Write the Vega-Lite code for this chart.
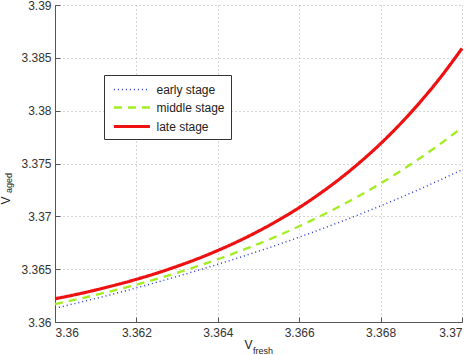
{
  "$schema": "https://vega.github.io/schema/vega-lite/v6.json",
  "width": 407,
  "height": 317,
  "autosize": "none",
  "padding": {"left": 55, "top": 5, "right": 12, "bottom": 33},
  "background": "white",
  "config": {
    "font": "Liberation Sans",
    "view": {"stroke": null},
    "axis": {
      "labelFont": "Liberation Sans",
      "labelFontSize": 12,
      "labelColor": "#333",
      "titleFont": "Liberation Sans",
      "titleFontSize": 12,
      "titleFontWeight": "normal",
      "titleColor": "#222",
      "domainColor": "#555",
      "tickColor": "#555",
      "tickSize": -5,
      "gridColor": "#999",
      "gridDash": [1, 3],
      "gridWidth": 0.8
    }
  },
  "datasets": {
    "curves": [
      {"vfresh": 3.3600, "vaged": 3.36130, "stage": "early stage"},
      {"vfresh": 3.3605, "vaged": 3.36176, "stage": "early stage"},
      {"vfresh": 3.3610, "vaged": 3.36223, "stage": "early stage"},
      {"vfresh": 3.3615, "vaged": 3.36272, "stage": "early stage"},
      {"vfresh": 3.3620, "vaged": 3.36323, "stage": "early stage"},
      {"vfresh": 3.3625, "vaged": 3.36376, "stage": "early stage"},
      {"vfresh": 3.3630, "vaged": 3.36431, "stage": "early stage"},
      {"vfresh": 3.3635, "vaged": 3.36488, "stage": "early stage"},
      {"vfresh": 3.3640, "vaged": 3.36546, "stage": "early stage"},
      {"vfresh": 3.3645, "vaged": 3.36607, "stage": "early stage"},
      {"vfresh": 3.3650, "vaged": 3.36670, "stage": "early stage"},
      {"vfresh": 3.3655, "vaged": 3.36735, "stage": "early stage"},
      {"vfresh": 3.3660, "vaged": 3.36803, "stage": "early stage"},
      {"vfresh": 3.3665, "vaged": 3.36873, "stage": "early stage"},
      {"vfresh": 3.3670, "vaged": 3.36946, "stage": "early stage"},
      {"vfresh": 3.3675, "vaged": 3.37021, "stage": "early stage"},
      {"vfresh": 3.3680, "vaged": 3.37099, "stage": "early stage"},
      {"vfresh": 3.3685, "vaged": 3.37180, "stage": "early stage"},
      {"vfresh": 3.3690, "vaged": 3.37264, "stage": "early stage"},
      {"vfresh": 3.3695, "vaged": 3.37351, "stage": "early stage"},
      {"vfresh": 3.3700, "vaged": 3.37440, "stage": "early stage"},
      {"vfresh": 3.3600, "vaged": 3.36170, "stage": "middle stage"},
      {"vfresh": 3.3605, "vaged": 3.36212, "stage": "middle stage"},
      {"vfresh": 3.3610, "vaged": 3.36256, "stage": "middle stage"},
      {"vfresh": 3.3615, "vaged": 3.36304, "stage": "middle stage"},
      {"vfresh": 3.3620, "vaged": 3.36354, "stage": "middle stage"},
      {"vfresh": 3.3625, "vaged": 3.36408, "stage": "middle stage"},
      {"vfresh": 3.3630, "vaged": 3.36466, "stage": "middle stage"},
      {"vfresh": 3.3635, "vaged": 3.36528, "stage": "middle stage"},
      {"vfresh": 3.3640, "vaged": 3.36594, "stage": "middle stage"},
      {"vfresh": 3.3645, "vaged": 3.36665, "stage": "middle stage"},
      {"vfresh": 3.3650, "vaged": 3.36740, "stage": "middle stage"},
      {"vfresh": 3.3655, "vaged": 3.36820, "stage": "middle stage"},
      {"vfresh": 3.3660, "vaged": 3.36906, "stage": "middle stage"},
      {"vfresh": 3.3665, "vaged": 3.36998, "stage": "middle stage"},
      {"vfresh": 3.3670, "vaged": 3.37096, "stage": "middle stage"},
      {"vfresh": 3.3675, "vaged": 3.37200, "stage": "middle stage"},
      {"vfresh": 3.3680, "vaged": 3.37312, "stage": "middle stage"},
      {"vfresh": 3.3685, "vaged": 3.37431, "stage": "middle stage"},
      {"vfresh": 3.3690, "vaged": 3.37559, "stage": "middle stage"},
      {"vfresh": 3.3695, "vaged": 3.37695, "stage": "middle stage"},
      {"vfresh": 3.3700, "vaged": 3.37840, "stage": "middle stage"},
      {"vfresh": 3.3600, "vaged": 3.36220, "stage": "late stage"},
      {"vfresh": 3.3605, "vaged": 3.36259, "stage": "late stage"},
      {"vfresh": 3.3610, "vaged": 3.36303, "stage": "late stage"},
      {"vfresh": 3.3615, "vaged": 3.36351, "stage": "late stage"},
      {"vfresh": 3.3620, "vaged": 3.36404, "stage": "late stage"},
      {"vfresh": 3.3625, "vaged": 3.36462, "stage": "late stage"},
      {"vfresh": 3.3630, "vaged": 3.36527, "stage": "late stage"},
      {"vfresh": 3.3635, "vaged": 3.36598, "stage": "late stage"},
      {"vfresh": 3.3640, "vaged": 3.36677, "stage": "late stage"},
      {"vfresh": 3.3645, "vaged": 3.36764, "stage": "late stage"},
      {"vfresh": 3.3650, "vaged": 3.36860, "stage": "late stage"},
      {"vfresh": 3.3655, "vaged": 3.36966, "stage": "late stage"},
      {"vfresh": 3.3660, "vaged": 3.37083, "stage": "late stage"},
      {"vfresh": 3.3665, "vaged": 3.37213, "stage": "late stage"},
      {"vfresh": 3.3670, "vaged": 3.37356, "stage": "late stage"},
      {"vfresh": 3.3675, "vaged": 3.37514, "stage": "late stage"},
      {"vfresh": 3.3680, "vaged": 3.37688, "stage": "late stage"},
      {"vfresh": 3.3685, "vaged": 3.37881, "stage": "late stage"},
      {"vfresh": 3.3690, "vaged": 3.38094, "stage": "late stage"},
      {"vfresh": 3.3695, "vaged": 3.38329, "stage": "late stage"},
      {"vfresh": 3.3700, "vaged": 3.38589, "stage": "late stage"}
    ],
    "one": [{"n": 1}]
  },
  "layer": [
    {
      "data": {"name": "curves"},
      "mark": {"type": "line", "interpolate": "monotone", "strokeCap": "butt"},
      "encoding": {
        "x": {
          "field": "vfresh", "type": "quantitative",
          "scale": {"domain": [3.36, 3.37], "nice": false, "zero": false},
          "axis": {
            "values": [3.36, 3.362, 3.364, 3.366, 3.368, 3.37],
            "format": ".3~f",
            "labelPadding": 10,
            "title": "V",
            "titleX": 193,
            "titleY": 22,
            "titleAlign": "center",
            "titleBaseline": "middle"
          }
        },
        "y": {
          "field": "vaged", "type": "quantitative",
          "scale": {"domain": [3.36, 3.39], "nice": false, "zero": false},
          "axis": {
            "values": [3.36, 3.365, 3.37, 3.375, 3.38, 3.385, 3.39],
            "format": ".3~f",
            "labelPadding": 9,
            "title": "V",
            "titleX": -50,
            "titleY": 195,
            "titleAlign": "center",
            "titleBaseline": "middle",
            "titleAngle": 270
          }
        },
        "color": {
          "field": "stage", "type": "nominal",
          "scale": {"domain": ["early stage", "middle stage", "late stage"], "range": ["#2a3bd6", "#a2ee22", "#ee1111"]},
          "legend": {
            "title": null,
            "orient": "none",
            "legendX": 49,
            "legendY": 70,
            "strokeColor": "#333",
            "fillColor": "white",
            "padding": 5.5,
            "symbolType": "M-0.7,0H3.8",
            "symbolSize": 256,
            "labelFont": "Liberation Sans",
            "labelFontSize": 12,
            "labelColor": "#222",
            "labelOffset": 27,
            "rowPadding": 2.5,
            "cornerRadius": 0
          }
        },
        "strokeDash": {
          "field": "stage", "type": "nominal",
          "scale": {"domain": ["early stage", "middle stage", "late stage"], "range": [[1, 3], [8, 6], [1, 0]]}
        },
        "strokeWidth": {
          "field": "stage", "type": "nominal",
          "scale": {"domain": ["early stage", "middle stage", "late stage"], "range": [1.5, 3.2, 3.6]}
        }
      }
    },
    {
      "data": {"name": "one"},
      "mark": {"type": "text", "text": "aged", "angle": 270, "fontSize": 9, "font": "Liberation Sans", "align": "center", "baseline": "middle", "color": "#222", "clip": false},
      "encoding": {
        "x": {"datum": 3.35887, "type": "quantitative"},
        "y": {"datum": 3.37315, "type": "quantitative"}
      }
    },
    {
      "data": {"name": "one"},
      "mark": {"type": "text", "text": "fresh", "fontSize": 9, "font": "Liberation Sans", "align": "center", "baseline": "middle", "color": "#222", "clip": false},
      "encoding": {
        "x": {"datum": 3.36511, "type": "quantitative"},
        "y": {"datum": 3.35726, "type": "quantitative"}
      }
    }
  ]
}
